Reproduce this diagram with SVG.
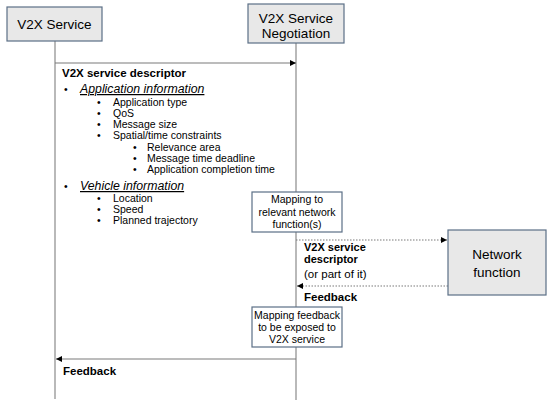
<svg xmlns="http://www.w3.org/2000/svg" width="550" height="407" viewBox="0 0 550 407">
<defs>
<style>
text{font-family:"Liberation Sans",Arial,sans-serif;fill:#000}
.actor{fill:#e8e8e8;stroke:#5b6f86;stroke-width:1.2}
.proc{fill:#fff;stroke:#5b6f86;stroke-width:1.2}
.life{stroke:#8a8a8a;stroke-width:1.2;fill:none}
.msg{stroke:#7a7a7a;stroke-width:1.2;fill:none}
.dot{stroke:#7a7a7a;stroke-width:1.2;fill:none;stroke-dasharray:1.5 1.5}
.big{font-size:13.5px}
.sm{font-size:10.5px}
.hd{font-size:11.5px;font-weight:bold}
.it{font-size:12.3px;font-style:italic;text-decoration:underline}
</style>
<marker id="ah" viewBox="0 0 6 6" refX="6" refY="3" markerWidth="6" markerHeight="6" markerUnits="userSpaceOnUse" orient="auto">
<path d="M0,0 L6,3 L0,6 Z" fill="#000"/>
</marker>
</defs>

<g id="lifelines">
<line class="life" x1="55" y1="41" x2="55" y2="399"/>
<line class="life" x1="296" y1="43" x2="296" y2="400"/>
</g>

<g id="connectors">
<line class="msg" x1="55" y1="63" x2="296" y2="63" marker-end="url(#ah)"/>
<line class="dot" x1="296" y1="240" x2="447" y2="240" marker-end="url(#ah)"/>
<line class="dot" x1="448" y1="286" x2="297" y2="286" marker-end="url(#ah)"/>
<line class="msg" x1="296" y1="359" x2="56" y2="359" marker-end="url(#ah)"/>
</g>

<g id="v2x-service">
<rect class="actor" x="7" y="7" width="95" height="34"/>
<text class="big" x="54.5" y="29" text-anchor="middle">V2X Service</text>
</g>

<g id="negotiation">
<rect class="actor" x="248" y="4" width="96" height="39"/>
<text class="big" x="296" y="23" text-anchor="middle">V2X Service</text>
<text class="big" x="296" y="38" text-anchor="middle">Negotiation</text>
</g>

<g id="network-function">
<rect class="actor" x="448" y="230" width="98" height="65"/>
<text class="big" x="497" y="259" text-anchor="middle">Network</text>
<text class="big" x="497" y="277" text-anchor="middle">function</text>
</g>

<g id="mapping-to">
<rect class="proc" x="252" y="192" width="90" height="40"/>
<text class="sm" x="297" y="203" text-anchor="middle">Mapping to</text>
<text class="sm" x="297" y="216" text-anchor="middle">relevant network</text>
<text class="sm" x="297" y="228" text-anchor="middle">function(s)</text>
</g>

<g id="mapping-feedback">
<rect class="proc" x="252" y="307" width="90" height="40"/>
<text class="sm" x="297" y="319" text-anchor="middle">Mapping feedback</text>
<text class="sm" x="297" y="331" text-anchor="middle">to be exposed to</text>
<text class="sm" x="297" y="343" text-anchor="middle">V2X service</text>
</g>

<g id="descriptor-label">
<text class="hd" x="62" y="77">V2X service descriptor</text>
<text class="sm" x="64" y="93">•</text>
<text class="it" x="80" y="93">Application information</text>
<text class="sm" x="97" y="105.5">•</text><text class="sm" x="113" y="105.5">Application type</text>
<text class="sm" x="97" y="116.7">•</text><text class="sm" x="113" y="116.7">QoS</text>
<text class="sm" x="97" y="127.8">•</text><text class="sm" x="113" y="127.8">Message size</text>
<text class="sm" x="97" y="139">•</text><text class="sm" x="113" y="139">Spatial/time constraints</text>
<text class="sm" x="133" y="150.5">•</text><text class="sm" x="147" y="150.5">Relevance area</text>
<text class="sm" x="133" y="161.7">•</text><text class="sm" x="147" y="161.7">Message time deadline</text>
<text class="sm" x="133" y="172.8">•</text><text class="sm" x="147" y="172.8">Application completion time</text>
<text class="sm" x="64" y="190">•</text>
<text class="it" x="80" y="190">Vehicle information</text>
<text class="sm" x="97" y="201.7">•</text><text class="sm" x="113" y="201.7">Location</text>
<text class="sm" x="97" y="213">•</text><text class="sm" x="113" y="213">Speed</text>
<text class="sm" x="97" y="224.3">•</text><text class="sm" x="113" y="224.3">Planned trajectory</text>
</g>

<g id="labels">
<text x="304" y="250.5" style="font-size:11px;font-weight:bold">V2X service</text>
<text x="304" y="263" style="font-size:11px;font-weight:bold">descriptor</text>
<text x="304" y="278" style="font-size:11.5px">(or part of it)</text>
<text class="hd" x="304" y="301">Feedback</text>
<text class="hd" x="63" y="375">Feedback</text>
</g>
</svg>
